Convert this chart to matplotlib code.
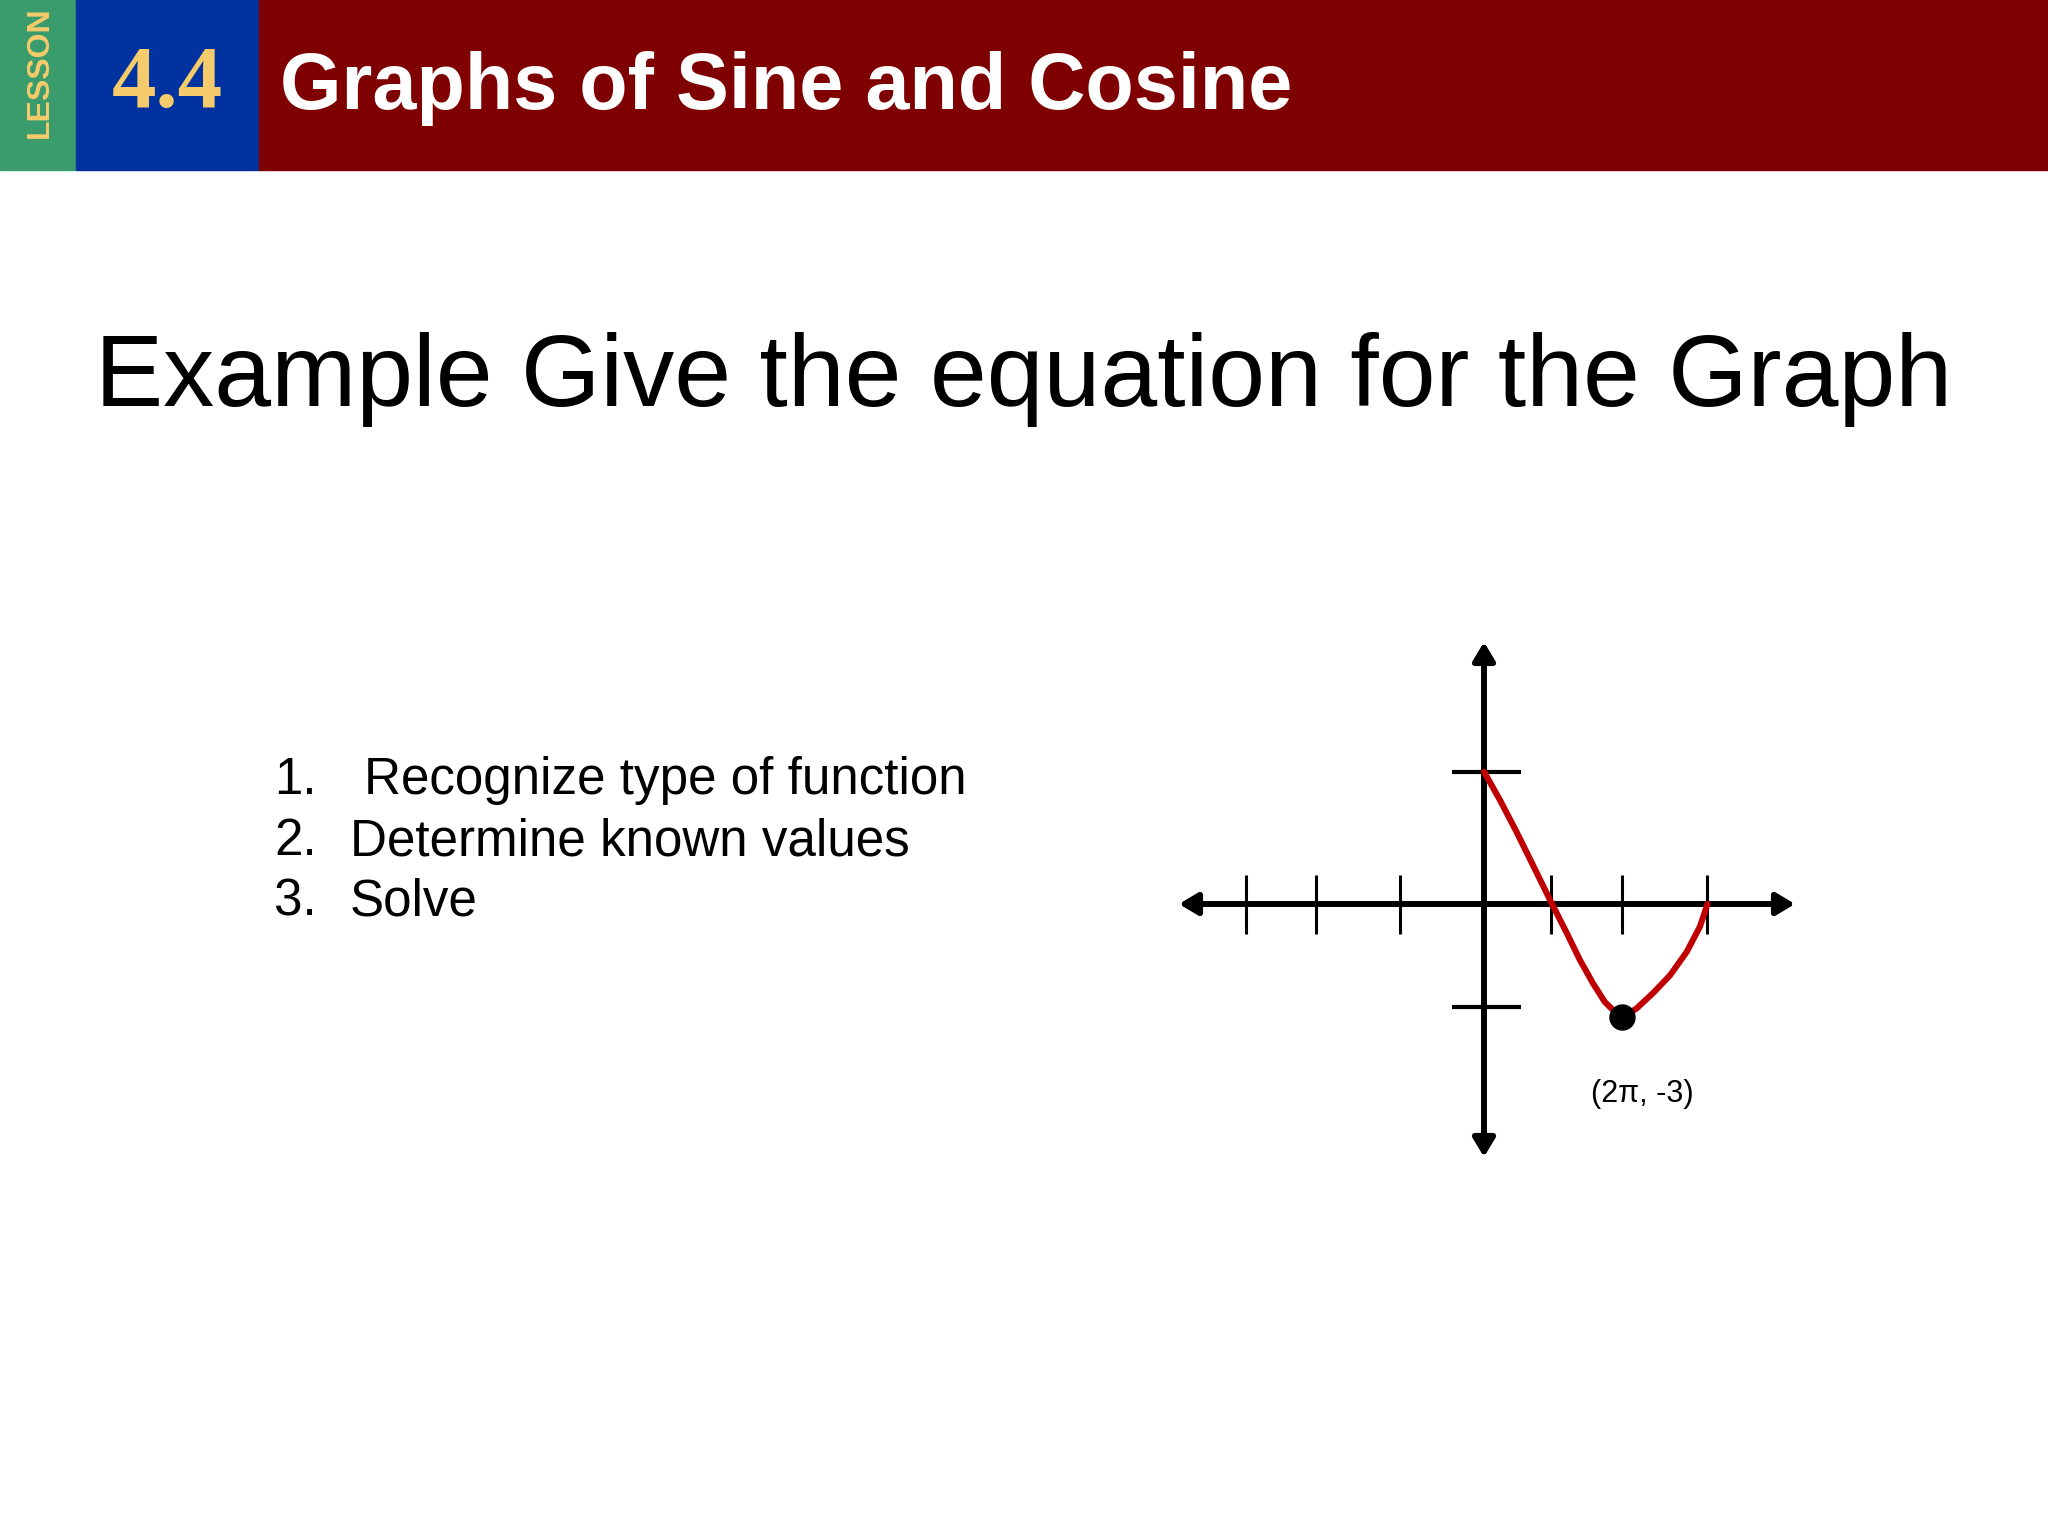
import matplotlib
matplotlib.use("Agg")
import matplotlib.pyplot as plt
from matplotlib.patches import Rectangle, FancyArrowPatch

W, H = 2048, 1536

HEADER_LESSON = "LESSON"
HEADER_NUM = "4.4"
HEADER_TITLE = "Graphs of Sine and Cosine"
HEADING = "Example Give the equation for the Graph"
STEP_NUMS = ["1.", "2.", "3."]
STEP_TEXTS = ["Recognize type of function", "Determine known values", "Solve"]

# hand-drawn graph, x in multiples of pi, y in units
CURVE_X = [0.0, 0.23, 0.47, 0.71, 0.97, 1.20, 1.39, 1.58, 1.75, 1.92, 2.02,
           2.21, 2.45, 2.70, 2.94, 3.13, 3.24]
CURVE_Y = [3.0, 2.36, 1.64, 0.88, 0.05, -0.66, -1.27, -1.80, -2.22, -2.48, -2.56,
           -2.37, -2.02, -1.61, -1.08, -0.51, 0.0]
X_TICKS = [-3.45, -2.43, -1.22, 0.97, 2.0, 3.23]
Y_TICKS = [3.0, -2.33]
POINT = (2.0, -2.57)
POINT_LABEL = "(2π, -3)"

GREEN = "#3a9c6c"
BLUE = "#0033a0"
MAROON = "#7f0000"
GOLD = "#f6cb6b"
RED = "#c00000"


def fx(px):
    return px / W


def fy(py):
    return 1 - py / H


fig = plt.figure(figsize=(W / 100, H / 100), dpi=100)
fig.patch.set_facecolor("white")

# header band
for x0, x1, c in [(0, 76, GREEN), (76, 259, BLUE), (259, W, MAROON)]:
    fig.patches.append(Rectangle((fx(x0), fy(170)), fx(x1 - x0), 170 / H,
                                 transform=fig.transFigure, color=c, zorder=0))

fig.text(fx(40), fy(72), HEADER_LESSON, color=GOLD, fontsize=23, fontweight="bold",
         family="Liberation Sans", rotation=90, ha="center", va="center")
fig.text(fx(167), fy(86), HEADER_NUM, color=GOLD, fontsize=64, fontweight="bold",
         family="Liberation Serif", ha="center", va="center")
fig.text(fx(280), fy(88), HEADER_TITLE, color="white", fontsize=57, fontweight="bold",
         family="Liberation Sans", ha="left", va="center")

fig.text(fx(95), fy(406), HEADING, color="black", fontsize=73.5,
         family="Liberation Sans", ha="left", va="baseline")

for i, (n, t) in enumerate(zip(STEP_NUMS, STEP_TEXTS)):
    yb = 794 + i * 61
    fig.text(fx(274), fy(yb), n, fontsize=36.8, family="Liberation Sans", va="baseline")
    fig.text(fx(364 if i == 0 else 350), fy(yb), t, fontsize=36.8,
             family="Liberation Sans", va="baseline")

# graph
L, R, T, B = 1150, 1830, 620, 1180
ox, oy, ux, uy = 1484, 904, 69.0, 44.1
ax = fig.add_axes([fx(L), fy(B), (R - L) / W, (B - T) / H])
ax.set_xlim((L - ox) / ux, (R - ox) / ux)
ax.set_ylim((oy - B) / uy, (oy - T) / uy)
ax.axis("off")

arrow_kw = dict(arrowstyle="<|-|>,head_length=0.5,head_width=0.3", color="black",
                lw=4.3, mutation_scale=22, shrinkA=0, shrinkB=0)
ax.add_patch(FancyArrowPatch(((1179 - ox) / ux, 0), ((1795 - ox) / ux, 0), **arrow_kw))
ax.add_patch(FancyArrowPatch((0, (oy - 642) / uy), (0, (oy - 1157) / uy), **arrow_kw))

for t in X_TICKS:
    ax.plot([t, t], [-0.68, 0.66], color="black", lw=2.2, solid_capstyle="butt")
for t in Y_TICKS:
    ax.plot([-0.46, 0.54], [t, t], color="black", lw=3.0, solid_capstyle="butt")

ax.plot(CURVE_X, CURVE_Y, color=RED, lw=4.4, solid_capstyle="round",
        solid_joinstyle="round", zorder=3)
ax.plot([POINT[0]], [POINT[1]], "o", color="black", markersize=18, zorder=4)
ax.text(POINT[0] + 0.3, -4.31, POINT_LABEL, fontsize=22, family="Liberation Sans",
        ha="center", va="center")

fig.savefig("out.png", dpi=100, facecolor="white")
